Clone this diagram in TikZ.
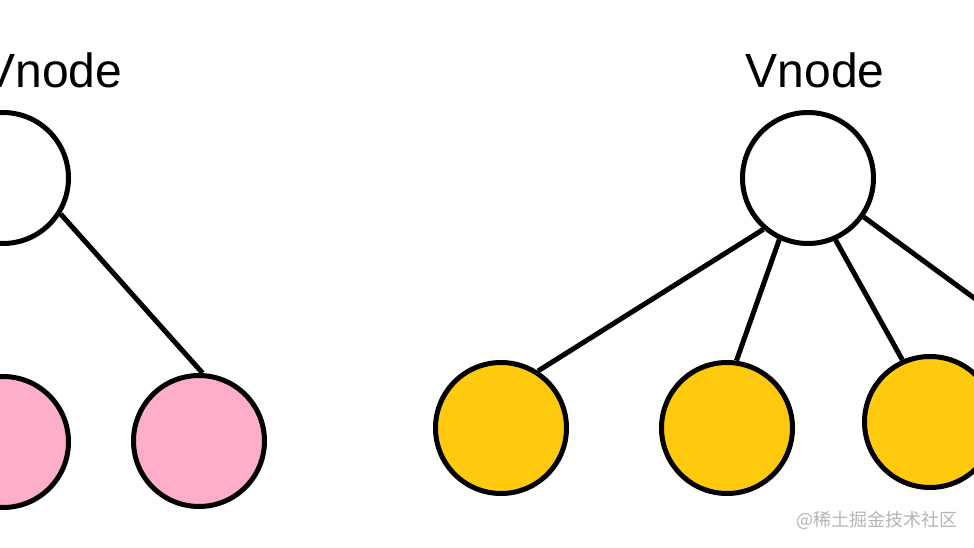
\documentclass[tikz,border=0pt]{standalone}
\usepackage{fontspec}
\setmainfont{Liberation Sans}
\newfontfamily\cjk{Noto Sans CJK SC}
\definecolor{pinkfill}{HTML}{FFAEC9}
\definecolor{goldfill}{HTML}{FFC90E}
\definecolor{wmgray}{HTML}{B4B4B4}
\begin{document}
\begin{tikzpicture}[x=1pt,y=-1pt,
  vcirc/.style={circle,draw=black,line width=5pt,minimum size=131pt,inner sep=0pt},
  edge/.style={draw=black,line width=5pt},
  lbl/.style={font=\fontsize{48}{48}\selectfont,text=black,inner sep=0pt,anchor=base}]
\fill[white] (0,0) rectangle (974,548);
\useasboundingbox (0,0) rectangle (974,548);
% left tree
\node[lbl] (ltxt) at (53,88) {Vnode};
\node[vcirc,fill=white] (lroot) at (3,178) {};
\node[vcirc,fill=pinkfill] (lc1) at (3,442) {};
\node[vcirc,fill=pinkfill] (lc2) at (199,441) {};
\draw[edge] (lroot.-32) -- (lc2.87);
% right tree
\node[lbl] (rtxt) at (815,88) {Vnode};
\node[vcirc,fill=white] (rroot) at (808,178) {};
\node[vcirc,fill=goldfill] (rc1) at (501,428) {};
\node[vcirc,fill=goldfill] (rc2) at (727,428) {};
\node[vcirc,fill=goldfill] (rc3) at (930,422) {};
\coordinate (rc4) at (1000,317);
\draw[edge] (rroot.-131) -- (rc1.57);
\draw[edge] (rroot.-115) -- (rc2.82);
\draw[edge] (rroot.-66) -- (rc3.114);
\draw[edge] (rroot.-35) -- (rc4);
% watermark
\node[font=\cjk\fontsize{18}{18}\selectfont,text=wmgray,inner sep=0pt,anchor=east] (wm) at (958,520) {@稀土掘金技术社区};
\end{tikzpicture}
\end{document}
